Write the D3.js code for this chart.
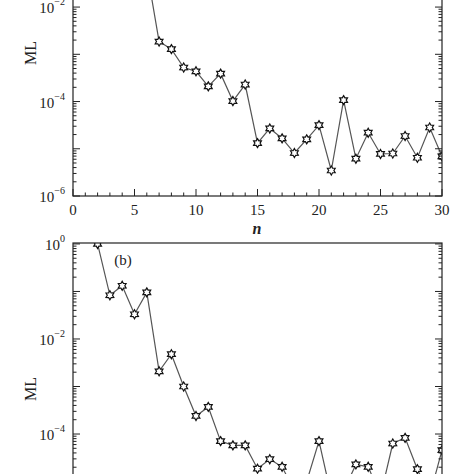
<!DOCTYPE html><html><head><script src="https://cdn.jsdelivr.net/npm/d3@7"></script>
<style>body{margin:0;background:#fff}</style></head><body><svg id="c" width="474" height="474"></svg>
<script>
const nA=[1,2,3,4,5,6,7,8,9,10,11,12,13,14,15,16,17,18,19,20,21,22,23,24,25,26,27,28,29,30];
const logA=[0,-0.9,-1.0,-1.4,-1.1,-1.21,-2.73,-2.89,-3.28,-3.36,-3.68,-3.41,-3.99,-3.64,-4.88,-4.57,-4.78,-5.09,-4.80,-4.50,-5.46,-3.97,-5.21,-4.66,-5.11,-5.10,-4.73,-5.19,-4.55,-5.16];
const nB=[2,3,4,5,6,7,8,9,10,11,12,13,14,15,16,17,18,19,20,21,22,23,24,25,26,27,28,29,30];
const logB=[0,-1.08,-0.88,-1.48,-1.02,-2.68,-2.32,-3.0,-3.62,-3.43,-4.15,-4.24,-4.24,-4.73,-4.53,-4.69,-5.2,-5.0,-4.15,-5.3,-5.2,-4.64,-4.69,-5.3,-4.2,-4.08,-4.74,-5.3,-4.34];
const xTicks=[0,5,10,15,20,25,30];
const svg=d3.select("#c");
const F="Liberation Serif, Times New Roman, serif";
function hexagram(s){const r=s,p=[];for(let k=0;k<12;k++){const a=k*Math.PI/6-Math.PI/2;const rr=k%2?r*0.58:r;p.push([rr*Math.cos(a),rr*Math.sin(a)]);}return "M"+p.join("L")+"Z";}
function panel(id,n,logs,top,bottom,yTop,yBot,decTicks,showX,lab){
  const x=d3.scaleLinear().domain([0,30]).range([73,442]);
  const y=d3.scaleLog().domain([Math.pow(10,yBot),Math.pow(10,yTop)]).range([bottom,top]);
  const g=svg.append("g");
  g.append("clipPath").attr("id",id).append("rect").attr("x",73).attr("y",top).attr("width",369).attr("height",bottom-top);
  const data=n.map((v,i)=>({n:v,v:Math.pow(10,logs[i])}));
  const pg=g.append("g").attr("clip-path",`url(#${id})`);
  pg.append("path").datum(data).attr("fill","none").attr("stroke","#555").attr("stroke-width",1.2)
    .attr("d",d3.line().x(d=>x(d.n)).y(d=>y(d.v)));
  pg.selectAll("path.m").data(data).join("path").attr("class","m").attr("d",hexagram(4.5))
    .attr("transform",d=>`translate(${x(d.n)},${y(d.v)})`).attr("fill","#fff").attr("stroke","#111").attr("stroke-width",1.2);
  g.append("rect").attr("x",73).attr("y",top).attr("width",369).attr("height",bottom-top).attr("fill","none").attr("stroke","#222").attr("stroke-width",1.2);
  for(let e=Math.floor(yBot);e<=yTop;e++){
    for(let m=1;m<10;m++){const v=m*Math.pow(10,e);const yy=y(v);if(yy<top-1||yy>bottom+1)continue;
      const L=m==1?7:3.5;
      g.append("line").attr("x1",73).attr("x2",73+L).attr("y1",yy).attr("y2",yy).attr("stroke","#222");
      g.append("line").attr("x1",442).attr("x2",442-L).attr("y1",yy).attr("y2",yy).attr("stroke","#222");}
  }
  decTicks.forEach(e=>{const yy=y(Math.pow(10,e));
    const t=g.append("text").attr("x",65).attr("y",yy+6).attr("text-anchor","end").attr("font-family",F).attr("font-size",15).attr("fill","#222");
    t.append("tspan").text("10");t.append("tspan").attr("dy",-8).attr("font-size",10).text(e==0?"0":"\u2212"+(-e));});
  g.append("text").attr("transform",`translate(36,${lab}) rotate(-90)`).attr("text-anchor","middle").attr("font-family",F).attr("font-size",16).attr("fill","#222").text("ML");
  xTicks.forEach(t=>{const xx=x(t);
    g.append("line").attr("x1",xx).attr("x2",xx).attr("y1",bottom).attr("y2",bottom-7).attr("stroke","#222");
    if(showX) g.append("text").attr("x",xx).attr("y",bottom+19).attr("text-anchor","middle").attr("font-family",F).attr("font-size",15).attr("fill","#222").text(t);});
  d3.range(1,30).filter(t=>t%5).forEach(t=>{g.append("line").attr("x1",x(t)).attr("x2",x(t)).attr("y1",bottom).attr("y2",bottom-3.5).attr("stroke","#222");});
}
panel("ca",nA,logA,-60,196,-0.58,-6,[-2,-4,-6],true,53);
svg.append("text").attr("x",257).attr("y",234).attr("text-anchor","middle").attr("font-family",F).attr("font-size",16).attr("font-weight","bold").attr("font-style","italic").attr("fill","#222").text("n");
panel("cb",nB,logB,243,530,0.02,-6.02,[0,-2,-4],false,389);
svg.append("text").attr("x",123).attr("y",265).attr("text-anchor","middle").attr("font-family",F).attr("font-size",15).attr("fill","#222").text("(b)");
</script></body></html>
